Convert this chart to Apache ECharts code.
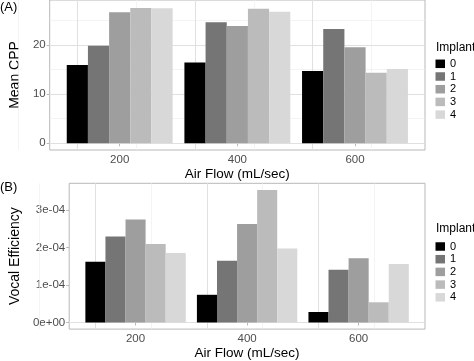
<!DOCTYPE html>
<html><head><meta charset="utf-8">
<script src="https://cdn.jsdelivr.net/npm/echarts@6/dist/echarts.min.js"></script>
<style>html,body{margin:0;padding:0;background:#fff}#c{width:474px;height:361px}</style>
</head><body><div id="c"></div>
<script>
// ---- data ----
const airFlow = [200, 400, 600];
const implants = ['0', '1', '2', '3', '4'];
// Mean CPP per implant, by air flow (200, 400, 600)
const cppImplant0 = [15.9, 16.4, 14.7];
const cppImplant1 = [19.8, 24.6, 23.2];
const cppImplant2 = [26.6, 23.8, 19.5];
const cppImplant3 = [27.5, 27.3, 14.3];
const cppImplant4 = [27.4, 26.7, 15.1];
// Vocal efficiency per implant, by air flow
const veImplant0 = [1.62e-4, 0.74e-4, 0.28e-4];
const veImplant1 = [2.30e-4, 1.65e-4, 1.41e-4];
const veImplant2 = [2.75e-4, 2.63e-4, 1.72e-4];
const veImplant3 = [2.10e-4, 3.54e-4, 0.54e-4];
const veImplant4 = [1.86e-4, 1.98e-4, 1.56e-4];
// tick labels / gridline values
const xTicks = [200, 400, 600];
const xMinor = [100, 300, 500, 700];
const cppTicks = [0, 10, 20];
const cppMinor = [5, 15, 25];
const veTicks = [0, 1e-4, 2e-4, 3e-4];
const veMinor = [0.5e-4, 1.5e-4, 2.5e-4, 3.5e-4];

const cppData = [cppImplant0, cppImplant1, cppImplant2, cppImplant3, cppImplant4];
const veData = [veImplant0, veImplant1, veImplant2, veImplant3, veImplant4];

const colors = ['#000000', '#757575', '#9e9e9e', '#bbbbbb', '#d8d8d8'];
const FONT = 'Liberation Sans, Arial, sans-serif';
const GRID_MAJOR = '#e0e0e0', GRID_MINOR = '#efefef', BORDER = '#b8b8b8';

function sci(v) {
  if (v === 0) return '0e+00';
  const s = Number(v).toExponential(0);
  const m = s.match(/^(-?\d)e([+-])(\d+)$/);
  return m ? m[1] + 'e' + m[2] + m[3].padStart(2, '0') : s;
}

function gridLines(yMajor, yMinor) {
  const d = [];
  xMinor.forEach(v => d.push({ xAxis: v, lineStyle: { color: GRID_MINOR, width: 0.7, type: 'solid' } }));
  yMinor.forEach(v => d.push({ yAxis: v, lineStyle: { color: GRID_MINOR, width: 0.7, type: 'solid' } }));
  xTicks.forEach(v => d.push({ xAxis: v, lineStyle: { color: GRID_MAJOR, width: 1, type: 'solid' } }));
  yMajor.forEach(v => d.push({ yAxis: v, lineStyle: { color: GRID_MAJOR, width: 1, type: 'solid' } }));
  return { silent: true, symbol: 'none', z: 1, animation: false, label: { show: false }, data: d };
}

function xAxisCfg(gridIndex) {
  return {
    type: 'value', gridIndex, min: 81, max: 719,
    axisLine: { show: false },
    axisTick: { show: true, customValues: xTicks, length: 3, lineStyle: { color: BORDER } },
    axisLabel: { customValues: xTicks, color: '#4d4d4d', fontSize: 11.5, margin: 4, fontFamily: FONT },
    splitLine: { show: false },
    name: 'Air Flow (mL/sec)', nameLocation: 'middle', nameGap: 13,
    nameTextStyle: { fontSize: 13.5, color: '#000', fontFamily: FONT, verticalAlign: 'top' }
  };
}

const series = [];
cppData.forEach((vals, i) => {
  series.push({
    type: 'bar', name: implants[i], xAxisIndex: 0, yAxisIndex: 0,
    data: airFlow.map((x, j) => [x, vals[j]]),
    barGap: '0%', barCategoryGap: '10%', itemStyle: { color: colors[i] }, z: 2,
    animation: false,
    markLine: i === 0 ? gridLines(cppTicks, cppMinor) : undefined
  });
});
veData.forEach((vals, i) => {
  series.push({
    type: 'bar', name: implants[i], xAxisIndex: 1, yAxisIndex: 1,
    data: airFlow.map((x, j) => [x, vals[j]]),
    barGap: '0%', barCategoryGap: '10%', itemStyle: { color: colors[i] }, z: 2,
    animation: false,
    markLine: i === 0 ? gridLines(veTicks, veMinor) : undefined
  });
});

const legendBase = {
  data: implants, orient: 'vertical', left: 435.5, icon: 'rect',
  itemWidth: 9.5, itemHeight: 8.5, itemGap: 1.7, padding: 0, selectedMode: false,
  textStyle: { fontSize: 11, lineHeight: 8.5, color: '#000', fontFamily: FONT }
};

const option = {
  animation: false,
  backgroundColor: '#ffffff',
  grid: [
    { left: 38, top: -1, width: 387, height: 151, show: true, borderColor: BORDER, borderWidth: 1, backgroundColor: 'transparent', containLabel: false },
    { left: 57.3, top: 183.3, width: 367.7, height: 148.4, show: true, borderColor: BORDER, borderWidth: 1, backgroundColor: 'transparent', containLabel: false }
  ],
  xAxis: [xAxisCfg(0), xAxisCfg(1)],
  yAxis: [
    {
      type: 'value', gridIndex: 0, min: -1.375, max: 29.1,
      axisLine: { show: false },
      axisTick: { show: true, customValues: cppTicks, length: 3, lineStyle: { color: BORDER } },
      axisLabel: { customValues: cppTicks, color: '#4d4d4d', fontSize: 11.5, margin: 4, fontFamily: FONT },
      splitLine: { show: false },
      name: 'Mean CPP', nameLocation: 'middle', nameRotate: 90, nameGap: 18,
      nameTextStyle: { fontSize: 14, color: '#000', fontFamily: FONT }
    },
    {
      type: 'value', gridIndex: 1, min: -0.177e-4, max: 3.72e-4,
      axisLine: { show: false },
      axisTick: { show: true, customValues: veTicks, length: 3, lineStyle: { color: BORDER } },
      axisLabel: { customValues: veTicks, formatter: sci, color: '#4d4d4d', fontSize: 11.5, margin: 4, fontFamily: FONT },
      splitLine: { show: false },
      name: 'Vocal Efficiency', nameLocation: 'middle', nameRotate: 90, nameGap: 37,
      nameTextStyle: { fontSize: 14, color: '#000', fontFamily: FONT }
    }
  ],
  legend: [
    Object.assign({}, legendBase, { top: 58.3 }),
    Object.assign({}, legendBase, { top: 241 })
  ],
  graphic: [
    { type: 'text', left: 0, top: 1, style: { text: '(A)', fontSize: 13, fill: '#000', fontFamily: FONT } },
    { type: 'text', left: 0, top: 181, style: { text: '(B)', fontSize: 13, fill: '#000', fontFamily: FONT } },
    { type: 'text', left: 436, top: 41.5, style: { text: 'Implant', fontSize: 12, fill: '#000', fontFamily: FONT } },
    { type: 'text', left: 436, top: 223, style: { text: 'Implant', fontSize: 12, fill: '#000', fontFamily: FONT } }
  ],
  series
};

const chart = echarts.init(document.getElementById('c'), null, { renderer: 'canvas' });
chart.setOption(option);
</script>
</body></html>
